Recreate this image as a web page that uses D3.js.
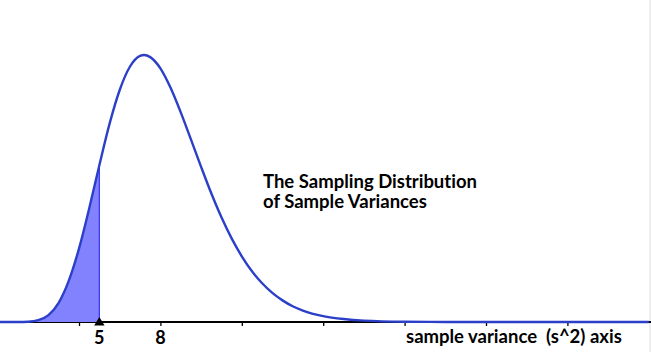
<!DOCTYPE html>
<html>
<head>
<meta charset="utf-8">
<script src="https://cdn.jsdelivr.net/npm/d3@7"></script>
<style>
  html, body { margin: 0; padding: 0; background: #fff; }
  svg { display: block; }
  text { font-family: Lato, "Open Sans", sans-serif; font-weight: bold; fill: #000; font-variant-ligatures: none; }
</style>
</head>
<body>
<svg id="chart" width="651" height="352"></svg>
<script>
// sample variance values (x) and curve height (peak = 1)
const sampleVar = [0, 1, 1.5, 2, 2.5, 3, 3.5, 4, 4.5, 5, 5.5, 6, 6.5, 7, 7.2, 7.5, 8, 8.5, 9, 9.5,
  10, 10.5, 11, 11.5, 12, 12.5, 13, 13.5, 14, 14.5, 15, 16, 17, 18, 20, 22, 26, 32];
const density = [0, 0, 0.001, 0.007, 0.026, 0.072, 0.155, 0.275, 0.425, 0.587, 0.742, 0.869, 0.956, 0.997, 1, 0.992, 0.95, 0.877, 0.785, 0.684,
  0.581, 0.482, 0.392, 0.313, 0.246, 0.19, 0.145, 0.109, 0.081, 0.059, 0.043, 0.022, 0.011, 0.005, 0.001, 0.0002, 0, 0];

const tickValues = [4, 8, 12, 16, 20, 24, 28];
const tickLabels = [{ v: 5, label: "5" }, { v: 8, label: "8" }];
const cutoff = 5;
const titleLines = ["The Sampling Distribution", "of Sample Variances"];
const axisTitle = "sample variance  (s^2) axis";

const svg = d3.select("#chart");
const width = +svg.attr("width");
const height = +svg.attr("height");

const x = d3.scaleLinear().domain([0, 32]).range([-2.4, 648.8]);
const y = d3.scaleLinear().domain([0, 1]).range([322, 55]);

const points = sampleVar.map((v, i) => ({ v, d: density[i] }));

// right border strip
svg.append("rect")
  .attr("x", width - 2).attr("y", 0)
  .attr("width", 2).attr("height", height)
  .attr("fill", "#eeeeee");

// axis
const axis = d3.axisBottom(x)
  .tickValues(tickValues)
  .tickSize(4)
  .tickSizeOuter(0)
  .tickFormat("");

const axisG = svg.append("g")
  .attr("transform", `translate(0, ${y(0)})`)
  .call(axis);
axisG.select(".domain").remove();
axisG.selectAll(".tick line").attr("stroke", "#000").attr("stroke-width", 1.3);

svg.append("line")
  .attr("x1", 0).attr("x2", width)
  .attr("y1", y(0)).attr("y2", y(0))
  .attr("stroke", "#000")
  .attr("stroke-width", 2);

// shaded left tail
const area = d3.area()
  .x(d => x(d.v))
  .y0(y(0))
  .y1(d => y(d.d))
  .curve(d3.curveMonotoneX);

svg.append("path")
  .datum(points.filter(d => d.v <= cutoff))
  .attr("d", area)
  .attr("fill", "#8282ff");

svg.append("line")
  .attr("x1", x(cutoff)).attr("x2", x(cutoff))
  .attr("y1", y(0)).attr("y2", y(density[sampleVar.indexOf(cutoff)]))
  .attr("stroke", "#3333ff")
  .attr("stroke-width", 1.2);

// curve
const line = d3.line()
  .x(d => x(d.v))
  .y(d => y(d.d))
  .curve(d3.curveMonotoneX);

svg.append("path")
  .datum(points)
  .attr("d", line)
  .attr("fill", "none")
  .attr("stroke", "#2b3fc9")
  .attr("stroke-width", 2.4);

// marker triangle at the cutoff
const cx = x(cutoff);
const tri = d3.path();
tri.moveTo(cx, y(0) - 5);
tri.lineTo(cx + 5.2, y(0) + 3.5);
tri.lineTo(cx - 5.2, y(0) + 3.5);
tri.closePath();
svg.append("path")
  .attr("d", tri.toString())
  .attr("fill", "#000");

// tick labels
svg.selectAll(".tick-label")
  .data(tickLabels)
  .join("text")
  .attr("class", "tick-label")
  .attr("x", d => x(d.v))
  .attr("y", 344)
  .attr("text-anchor", "middle")
  .style("font-size", "18px")
  .text(d => d.label);

// axis title
svg.append("text")
  .attr("x", 406)
  .attr("y", 343)
  .style("font-size", "18.5px")
  .style("white-space", "pre")
  .text(axisTitle);

// annotation
svg.selectAll(".title-line")
  .data(titleLines)
  .join("text")
  .attr("class", "title-line")
  .attr("x", 263)
  .attr("y", (d, i) => 188 + i * 20)
  .style("font-size", "18.5px")
  .text(d => d);
</script>
</body>
</html>
